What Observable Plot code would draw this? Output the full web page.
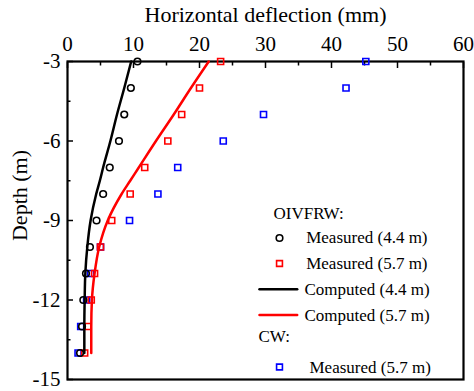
<!DOCTYPE html>
<html><head><meta charset="utf-8">
<script src="https://cdn.jsdelivr.net/npm/d3@7"></script>
<script src="https://cdn.jsdelivr.net/npm/@observablehq/plot@0.6"></script>
<style>body{margin:0;background:#fff}#chart{width:474px;height:391px}#chart svg, #chart svg text{font-family:'Liberation Serif','Times New Roman',serif}</style>
</head><body><div id="chart"></div>
<script>
// ---- data ----
const depths = [-3, -4, -5, -6, -7, -8, -9, -10, -11, -12, -13, -14];
const measured44 = [10.6, 9.6, 8.6, 7.8, 6.4, 5.4, 4.4, 3.4, 2.8, 2.4, 2.2, 1.9];
const measured57 = [23.2, 20.0, 17.3, 15.2, 11.7, 9.5, 6.7, 5.0, 4.1, 3.6, 3.1, 2.6];
const measuredCW = [45.2, 42.2, 29.7, 23.6, 16.7, 13.7, 9.4, 5.0, 3.5, 2.9, 2.0, 1.6];
const computedDepths = [-3, -4, -5, -6, -7, -7.5, -8, -9, -10, -11, -12, -13, -14];
const computed44 = [9.65, 8.6, 7.5, 6.5, 5.4, 4.9, 4.35, 3.5, 3.0, 2.7, 2.6, 2.55, 2.55];
const computed57 = [21.4, 18.7, 16.1, 13.4, 10.8, 9.5, 8.2, 6.1, 4.8, 4.1, 3.7, 3.6, 3.6];
const xMajorTicks = [0, 10, 20, 30, 40, 50, 60];
const xMinorTicks = [5, 15, 25, 35, 45, 55];
const yMajorTicks = [-3, -6, -9, -12, -15];
const yMinorTicks = [-4.5, -7.5, -10.5, -13.5];
const xTitle = "Horizontal deflection (mm)";
const yTitle = "Depth (m)";
const legendHeaders = ["OIVFRW:", "CW:"];
const legendLabels = ["Measured (4.4 m)", "Measured (5.7 m)", "Computed (4.4 m)", "Computed (5.7 m)", "Measured (5.7 m)"];

const pts = (ys, xs) => ys.map((d, i) => ({depth: d, value: xs[i]}));
const font = "'Liberation Serif', 'Times New Roman', serif";
const RED = "#ff0000", BLUE = "#0000ff", BLACK = "#000";

// legend layout (pixel offsets from top-left of frame)
const lg = (o) => ({frameAnchor: "top-left", fontFamily: font, ...o});
const hline = {draw(c, l) { c.moveTo(0, 0); c.lineTo(0, -l); }};
const legendMarks = [
  Plot.text([legendHeaders[0]], lg({text: d => d, dx: 206, dy: 152, textAnchor: "start", lineAnchor: "middle", fontSize: 17})),
  Plot.dot([0], lg({dx: 212, dy: 176.5, r: 3.3, stroke: BLACK, strokeWidth: 1.6, fill: "none"})),
  Plot.text([legendLabels[0]], lg({text: d => d, dx: 238.7, dy: 176, textAnchor: "start", lineAnchor: "middle", fontSize: 17})),
  Plot.dot([0], lg({dx: 212, dy: 202, r: 3.3, symbol: "square", stroke: RED, strokeWidth: 1.6, fill: "none"})),
  Plot.text([legendLabels[1]], lg({text: d => d, dx: 238.7, dy: 202, textAnchor: "start", lineAnchor: "middle", fontSize: 17})),
  Plot.vector([0], lg({dx: 192, dy: 227.7, length: 37.7, rotate: 90, anchor: "start", shape: hline, stroke: BLACK, strokeWidth: 2.5})),
  Plot.text([legendLabels[2]], lg({text: d => d, dx: 237, dy: 228, textAnchor: "start", lineAnchor: "middle", fontSize: 17})),
  Plot.vector([0], lg({dx: 192, dy: 253.5, length: 37.7, rotate: 90, anchor: "start", shape: hline, stroke: RED, strokeWidth: 2.5})),
  Plot.text([legendLabels[3]], lg({text: d => d, dx: 237, dy: 254, textAnchor: "start", lineAnchor: "middle", fontSize: 17})),
  Plot.text([legendHeaders[1]], lg({text: d => d, dx: 191, dy: 275, textAnchor: "start", lineAnchor: "middle", fontSize: 17})),
  Plot.dot([0], lg({dx: 212, dy: 305.5, r: 3.3, symbol: "square", stroke: BLUE, strokeWidth: 1.6, fill: "none"})),
  Plot.text([legendLabels[4]], lg({text: d => d, dx: 242, dy: 306, textAnchor: "start", lineAnchor: "middle", fontSize: 17}))
];

const chart = Plot.plot({
  width: 474, height: 391,
  marginLeft: 67, marginRight: 11, marginTop: 61, marginBottom: 12,
  style: {fontFamily: font, background: "#fff", color: BLACK, overflow: "visible"},
  x: {domain: [0, 60]},
  y: {domain: [-15, -3]},
  marks: [
    // axes
    Plot.axisX({anchor: "top", ticks: xMajorTicks, tickSize: -6, fill: "none", label: null, strokeWidth: 1.5}),
    Plot.axisX({anchor: "top", ticks: xMinorTicks, tickSize: -3.5, fill: "none", label: null, strokeWidth: 1.5}),
    Plot.axisX({anchor: "top", ticks: xMajorTicks, tickSize: 0, tickPadding: 11, tickFormat: d => String(d), fontSize: 21, fontFamily: font, label: null}),
    Plot.axisY({anchor: "left", ticks: yMajorTicks, tickSize: -6, fill: "none", label: null, strokeWidth: 1.5}),
    Plot.axisY({anchor: "left", ticks: yMinorTicks, tickSize: -3.5, fill: "none", label: null, strokeWidth: 1.5}),
    Plot.axisY({anchor: "left", ticks: yMajorTicks, tickSize: 0, tickPadding: 7, tickFormat: d => String(d), fontSize: 21, fontFamily: font, label: null}),
    Plot.frame({stroke: BLACK, strokeWidth: 2.2}),
    Plot.text([xTitle], {text: d => d, frameAnchor: "top", dy: -47, fontSize: 22, fontFamily: font, textAnchor: "middle", lineAnchor: "middle"}),
    Plot.text([yTitle], {text: d => d, frameAnchor: "left", rotate: -90, dx: -48, dy: -25, fontSize: 22, fontFamily: font, textAnchor: "middle", lineAnchor: "middle"}),
    // data
    Plot.dot(pts(depths, measuredCW), {x: "value", y: "depth", r: 3.4, symbol: "square", stroke: BLUE, strokeWidth: 1.6, fill: "none"}),
    Plot.dot(pts(depths, measured57), {x: "value", y: "depth", r: 3.4, symbol: "square", stroke: RED, strokeWidth: 1.6, fill: "none"}),
    Plot.dot(pts(depths, measured44), {x: "value", y: "depth", r: 3.3, stroke: BLACK, strokeWidth: 1.6, fill: "none"}),
    Plot.line(pts(computedDepths, computed44), {x: "value", y: "depth", curve: "monotone-y", stroke: BLACK, strokeWidth: 2.5}),
    Plot.line(pts(computedDepths, computed57), {x: "value", y: "depth", curve: "monotone-y", stroke: RED, strokeWidth: 2.5}),
    ...legendMarks
  ]
});
document.getElementById("chart").append(chart);
</script>
</body></html>
